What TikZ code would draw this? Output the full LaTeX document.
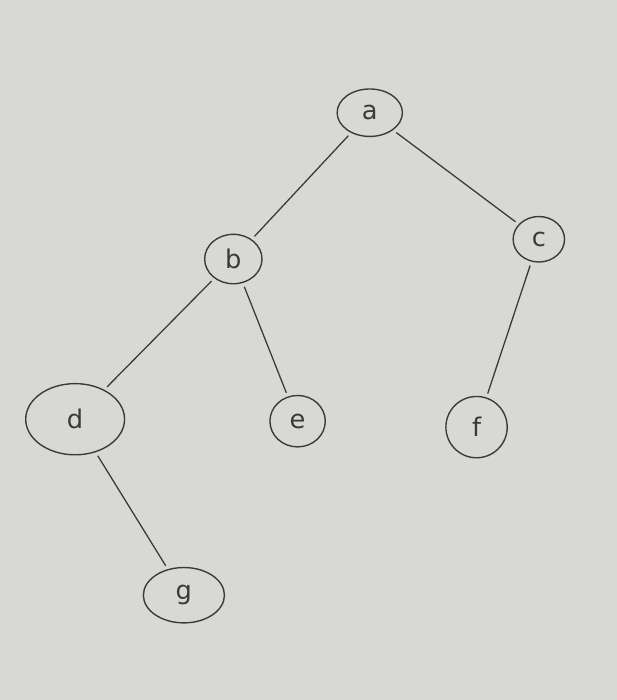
\documentclass[tikz,border=0pt]{standalone}
\usepackage{fontspec}
\setsansfont{DejaVu Sans}
\usetikzlibrary{shapes.geometric}
\definecolor{paper}{RGB}{216,216,213}
\definecolor{pencil}{RGB}{58,58,58}
\begin{document}
\begin{tikzpicture}[x=1pt,y=-1pt,
  vert/.style={ellipse,draw=pencil,line width=1.4pt,inner sep=0pt,
    font=\sffamily\fontsize{26}{26}\selectfont\color{pencil}},
  edge/.style={draw=pencil,line width=1.3pt,shorten <=4pt,shorten >=4pt}]
\fill[paper] (-4,-4) rectangle (620,704);
\useasboundingbox (0,0) rectangle (616,700);
\node[vert,minimum width=66pt,minimum height=48pt] (a) at (370,110) {a};
\node[vert,minimum width=58pt,minimum height=50pt] (b) at (232,258) {b};
\node[vert,minimum width=52pt,minimum height=46pt] (c) at (541,238) {c};
\node[vert,minimum width=100pt,minimum height=72pt] (d) at (72,420) {d};
\node[vert,minimum width=56pt,minimum height=52pt] (e) at (297,422) {e};
\node[vert,minimum width=62pt,minimum height=62pt] (f) at (478,428) {f};
\node[vert,minimum width=82pt,minimum height=56pt] (g) at (182,598) {g};
\draw[edge] (a) -- (b);
\draw[edge] (a) -- (c);
\draw[edge] (b) -- (d);
\draw[edge] (b) -- (e);
\draw[edge] (c) -- (f);
\draw[edge] (d) -- (g);
\end{tikzpicture}
\end{document}
